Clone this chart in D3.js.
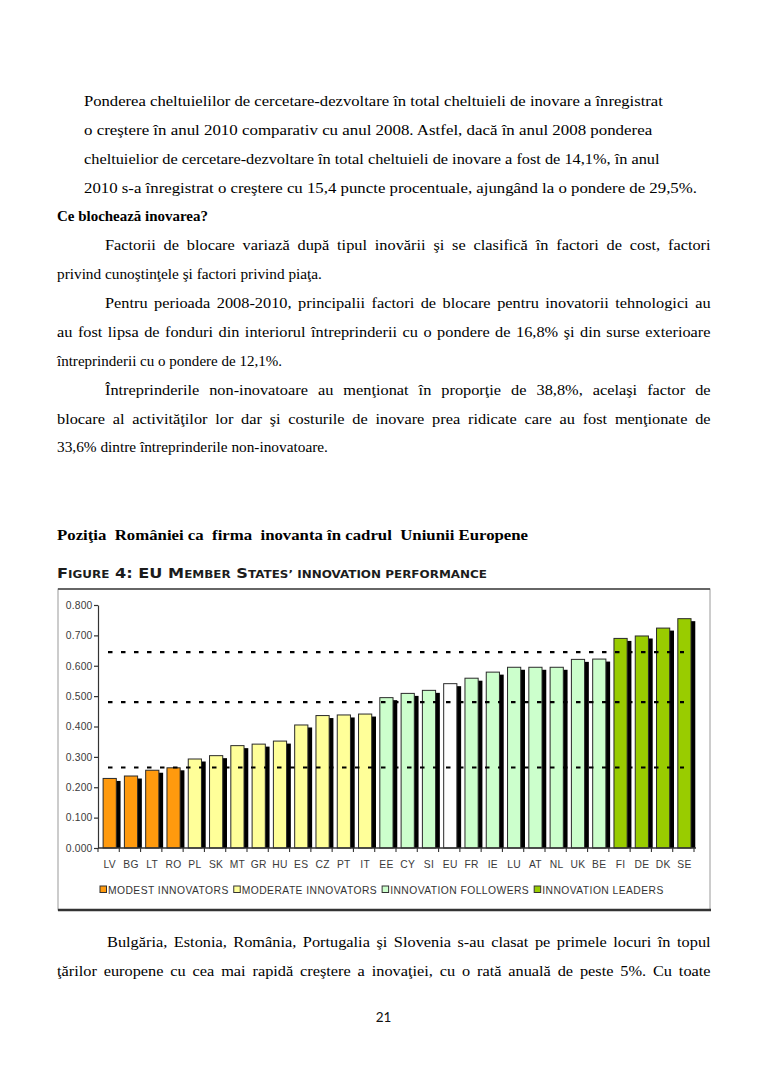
<!DOCTYPE html>
<html><head><meta charset="utf-8">
<script src="https://cdn.jsdelivr.net/npm/d3@7"></script>
<style>
html,body{margin:0;padding:0;background:#fff;width:768px;height:1086px;overflow:hidden}
svg{display:block}
.serif{font-family:"Liberation Serif","Tinos","Times New Roman","DejaVu Serif",serif}
.sans{font-family:"Liberation Sans",Arial,Helvetica,sans-serif}
</style></head><body>
<script>
// ---------- data ----------
const countries = ["LV","BG","LT","RO","PL","SK","MT","GR","HU","ES","CZ","PT","IT","EE","CY","SI","EU","FR","IE","LU","AT","NL","UK","BE","FI","DE","DK","SE"];
const scores    = [0.229,0.237,0.256,0.264,0.293,0.304,0.337,0.342,0.352,0.405,0.436,0.438,0.441,0.495,0.509,0.519,0.541,0.559,0.579,0.595,0.595,0.595,0.621,0.622,0.690,0.698,0.724,0.755];
const groupOf   = ["modest","modest","modest","modest","moderate","moderate","moderate","moderate","moderate","moderate","moderate","moderate","moderate","followers","followers","followers","eu","followers","followers","followers","followers","followers","followers","followers","leaders","leaders","leaders","leaders"];
const groupKeys   = ["modest","moderate","followers","leaders"];
const groupLabels = ["MODEST INNOVATORS","MODERATE INNOVATORS","INNOVATION FOLLOWERS","INNOVATION LEADERS"];
const groupColors = {modest:"#FF9A0E", moderate:"#FFFF99", followers:"#CCFFCC", leaders:"#99CC00", eu:"#FFFFFF"};
const thresholds  = [0.265, 0.480, 0.645];
const yTicks      = [0,0.1,0.2,0.3,0.4,0.5,0.6,0.7,0.8];

const bodyLines = [
 {t:"Ponderea cheltuielilor de cercetare-dezvoltare în total cheltuieli de inovare a înregistrat", x:84, r:663, y:106, m:"s"},
 {t:"o creştere în anul 2010 comparativ cu anul 2008. Astfel, dacă în anul 2008 ponderea", x:84, r:652, y:135, m:"s"},
 {t:"cheltuielior de cercetare-dezvoltare în total cheltuieli de inovare a fost de 14,1%, în anul", x:84, r:660, y:164, m:"s"},
 {t:"2010 s-a înregistrat o creştere cu 15,4 puncte procentuale, ajungând la o pondere de 29,5%.", x:84, r:697, y:193, m:"s"},
 {t:"Ce blochează inovarea?", x:57, r:208, y:221, m:"s", b:true},
 {t:"Factorii de blocare variază după tipul inovării şi se clasifică în factori de cost, factori", x:105, r:711, y:250, m:"j"},
 {t:"privind cunoştinţele şi factori privind piaţa.", x:57, r:322, y:279, m:"s"},
 {t:"Pentru perioada 2008-2010, principalii factori de blocare pentru inovatorii tehnologici au", x:105, r:711, y:307.5, m:"j"},
 {t:"au fost lipsa de fonduri din interiorul întreprinderii cu o pondere de 16,8% şi din surse exterioare", x:57, r:711, y:336.5, m:"j"},
 {t:"întreprinderii cu o pondere de 12,1%.", x:57, r:282, y:365.5, m:"s"},
 {t:"Întreprinderile non-inovatoare au menţionat în proporţie de 38,8%, acelaşi factor de", x:105, r:711, y:394.5, m:"j"},
 {t:"blocare al activităţilor lor dar şi costurile de inovare prea ridicate care au fost menţionate de", x:57, r:711, y:423.5, m:"j"},
 {t:"33,6% dintre întreprinderile non-inovatoare.", x:57, r:328, y:452, m:"s"},
 {t:"Poziţia  României ca  firma  inovanta în cadrul  Uniunii Europene", x:57, r:528, y:540, m:"s", b:true},
 {t:"Bulgăria, Estonia, România, Portugalia şi Slovenia s-au clasat pe primele locuri în topul", x:107, r:711, y:947, m:"j"},
 {t:"ţărilor europene cu cea mai rapidă creştere a inovaţiei, cu o rată anuală de peste 5%. Cu toate", x:57, r:711, y:976, m:"j"}
];

// ---------- page ----------
const svg = d3.select("body").append("svg").attr("width",768).attr("height",1086);
svg.append("rect").attr("width",768).attr("height",1086).attr("fill","#fff");

const textG = svg.append("g");
const scales = [];
const nodes = bodyLines.map(L => {
  const g = textG.append("g");
  const t = g.append("text").attr("class","serif").attr("x",0).attr("y",0)
    .style("font-size","14.4px")
    .style("font-weight",L.b?"bold":"normal").attr("fill","#000")
    .style("white-space","pre").text(L.t);
  const n = t.node().getComputedTextLength();
  if (L.m==="s" && !L.b) scales.push((L.r-L.x)/n);
  return {L,g,t,n};
});
const sMed = d3.median(scales);
nodes.forEach(({L,g,t,n}) => {
  let s = (L.r-L.x)/n;
  if (L.m==="j") {
    s = sMed;
    const spaces = (L.t.match(/ /g)||[]).length;
    const extra = ((L.r-L.x)/s - n)/spaces;
    t.style("word-spacing", extra+"px");
  }
  g.attr("transform",`translate(${L.x},${L.y}) scale(${s},1)`);
});

svg.append("text").attr("x",383.5).attr("y",1022).attr("text-anchor","middle")
  .style("font-family","Lato,'Open Sans',sans-serif").style("font-size","13.5px").attr("fill","#111").text("21");

// ---------- figure title ----------
const title = svg.append("text").attr("x",57).attr("y",578)
  .style("font-family","'DejaVu Sans',Verdana,sans-serif").style("font-weight","bold").attr("fill","#1c1c1c")
  .attr("textLength",430).attr("lengthAdjust","spacingAndGlyphs");
[["F",13.5],["IGURE",10],[" 4: EU M",13.5],["EMBER",10],[" S",13.5],["TATES’ INNOVATION PERFORMANCE",10]]
  .forEach(([s,f]) => title.append("tspan").style("font-size",f+"px").text(s));

// ---------- chart frame ----------
const frame = {l:58, t:589, r:710, b:910};
svg.append("rect").attr("x",frame.l).attr("y",frame.t).attr("width",frame.r-frame.l).attr("height",frame.b-frame.t)
  .attr("fill","#fff").attr("stroke","#9a9a9a").attr("stroke-width",1);
svg.append("line").attr("x1",frame.l).attr("x2",frame.r).attr("y1",frame.t).attr("y2",frame.t).attr("stroke","#444").attr("stroke-width",1.6);
svg.append("line").attr("x1",frame.l).attr("x2",frame.r+1).attr("y1",frame.b).attr("y2",frame.b).attr("stroke","#333").attr("stroke-width",2.6);

// ---------- scales ----------
const x = d3.scaleBand().domain(countries).range([98,694]).padding(0);
const y = d3.scaleLinear().domain([0,0.8]).range([848,605]);
const bw = x.bandwidth();
const fx = c => x(c) + bw*0.24;
const fw = bw*0.62;
const shOff = bw*0.2;

// y axis
const yAxis = svg.append("g").attr("transform","translate(98,0)")
  .call(d3.axisLeft(y).tickValues(yTicks).tickFormat(d3.format(".3f")).tickSize(4).tickSizeOuter(0));
yAxis.select(".domain").attr("stroke","#333").attr("stroke-width",1.2);
yAxis.selectAll(".tick line").attr("stroke","#333").attr("stroke-width",1.2);
yAxis.selectAll(".tick text").attr("class","sans").style("font-size","10.3px")
  .attr("fill","#3a3a3a").attr("x",-5.5).style("letter-spacing","0.2px");

// bars: shadow then face
const bars = svg.append("g");
countries.forEach((c,i) => {
  bars.append("rect").attr("x",fx(c)+shOff).attr("y",y(scores[i])+2.5)
    .attr("width",fw).attr("height",y(0)-y(scores[i])-2.5).attr("fill","#000");
  bars.append("rect").attr("x",fx(c)).attr("y",y(scores[i]))
    .attr("width",fw).attr("height",y(0)-y(scores[i]))
    .attr("fill",groupColors[groupOf[i]]).attr("stroke","#2a2a2a").attr("stroke-width",1);
});

// threshold dashed lines
svg.append("g").selectAll("line").data(thresholds).join("line")
  .attr("x1",108).attr("x2",684).attr("y1",d=>y(d)).attr("y2",d=>y(d))
  .attr("stroke","#000").attr("stroke-width",2.2).attr("stroke-dasharray","4.5,8.5");

// x axis
const xAxisG = svg.append("g");
xAxisG.append("line").attr("x1",98).attr("x2",696).attr("y1",y(0)).attr("y2",y(0)).attr("stroke","#333").attr("stroke-width",1.3);
xAxisG.selectAll(".tk").data(countries.concat(["_end"])).join("line")
  .attr("x1",(d,i)=>98+i*bw).attr("x2",(d,i)=>98+i*bw).attr("y1",y(0)).attr("y2",y(0)+4)
  .attr("stroke","#333").attr("stroke-width",1.1);
xAxisG.selectAll("text").data(countries).join("text").attr("class","sans")
  .attr("x",c=>fx(c)+fw/2).attr("y",868).attr("text-anchor","middle")
  .style("font-size","10.3px").style("letter-spacing","0.3px")
  .attr("fill","#3a3a3a").text(c=>c);

// legend
const leg = svg.append("g");
let lx = 100;
groupKeys.forEach((k,i) => {
  leg.append("rect").attr("x",lx).attr("y",886).attr("width",6.5).attr("height",6.5)
    .attr("fill",groupColors[k]).attr("stroke","#333").attr("stroke-width",1);
  const t = leg.append("text").attr("class","sans").attr("x",lx+8).attr("y",893.5)
    .style("font-size","10.3px").style("letter-spacing","0.45px")
    .attr("fill","#333").text(groupLabels[i]);
  lx += 8 + t.node().getComputedTextLength() + 5;
});
</script>
</body></html>
